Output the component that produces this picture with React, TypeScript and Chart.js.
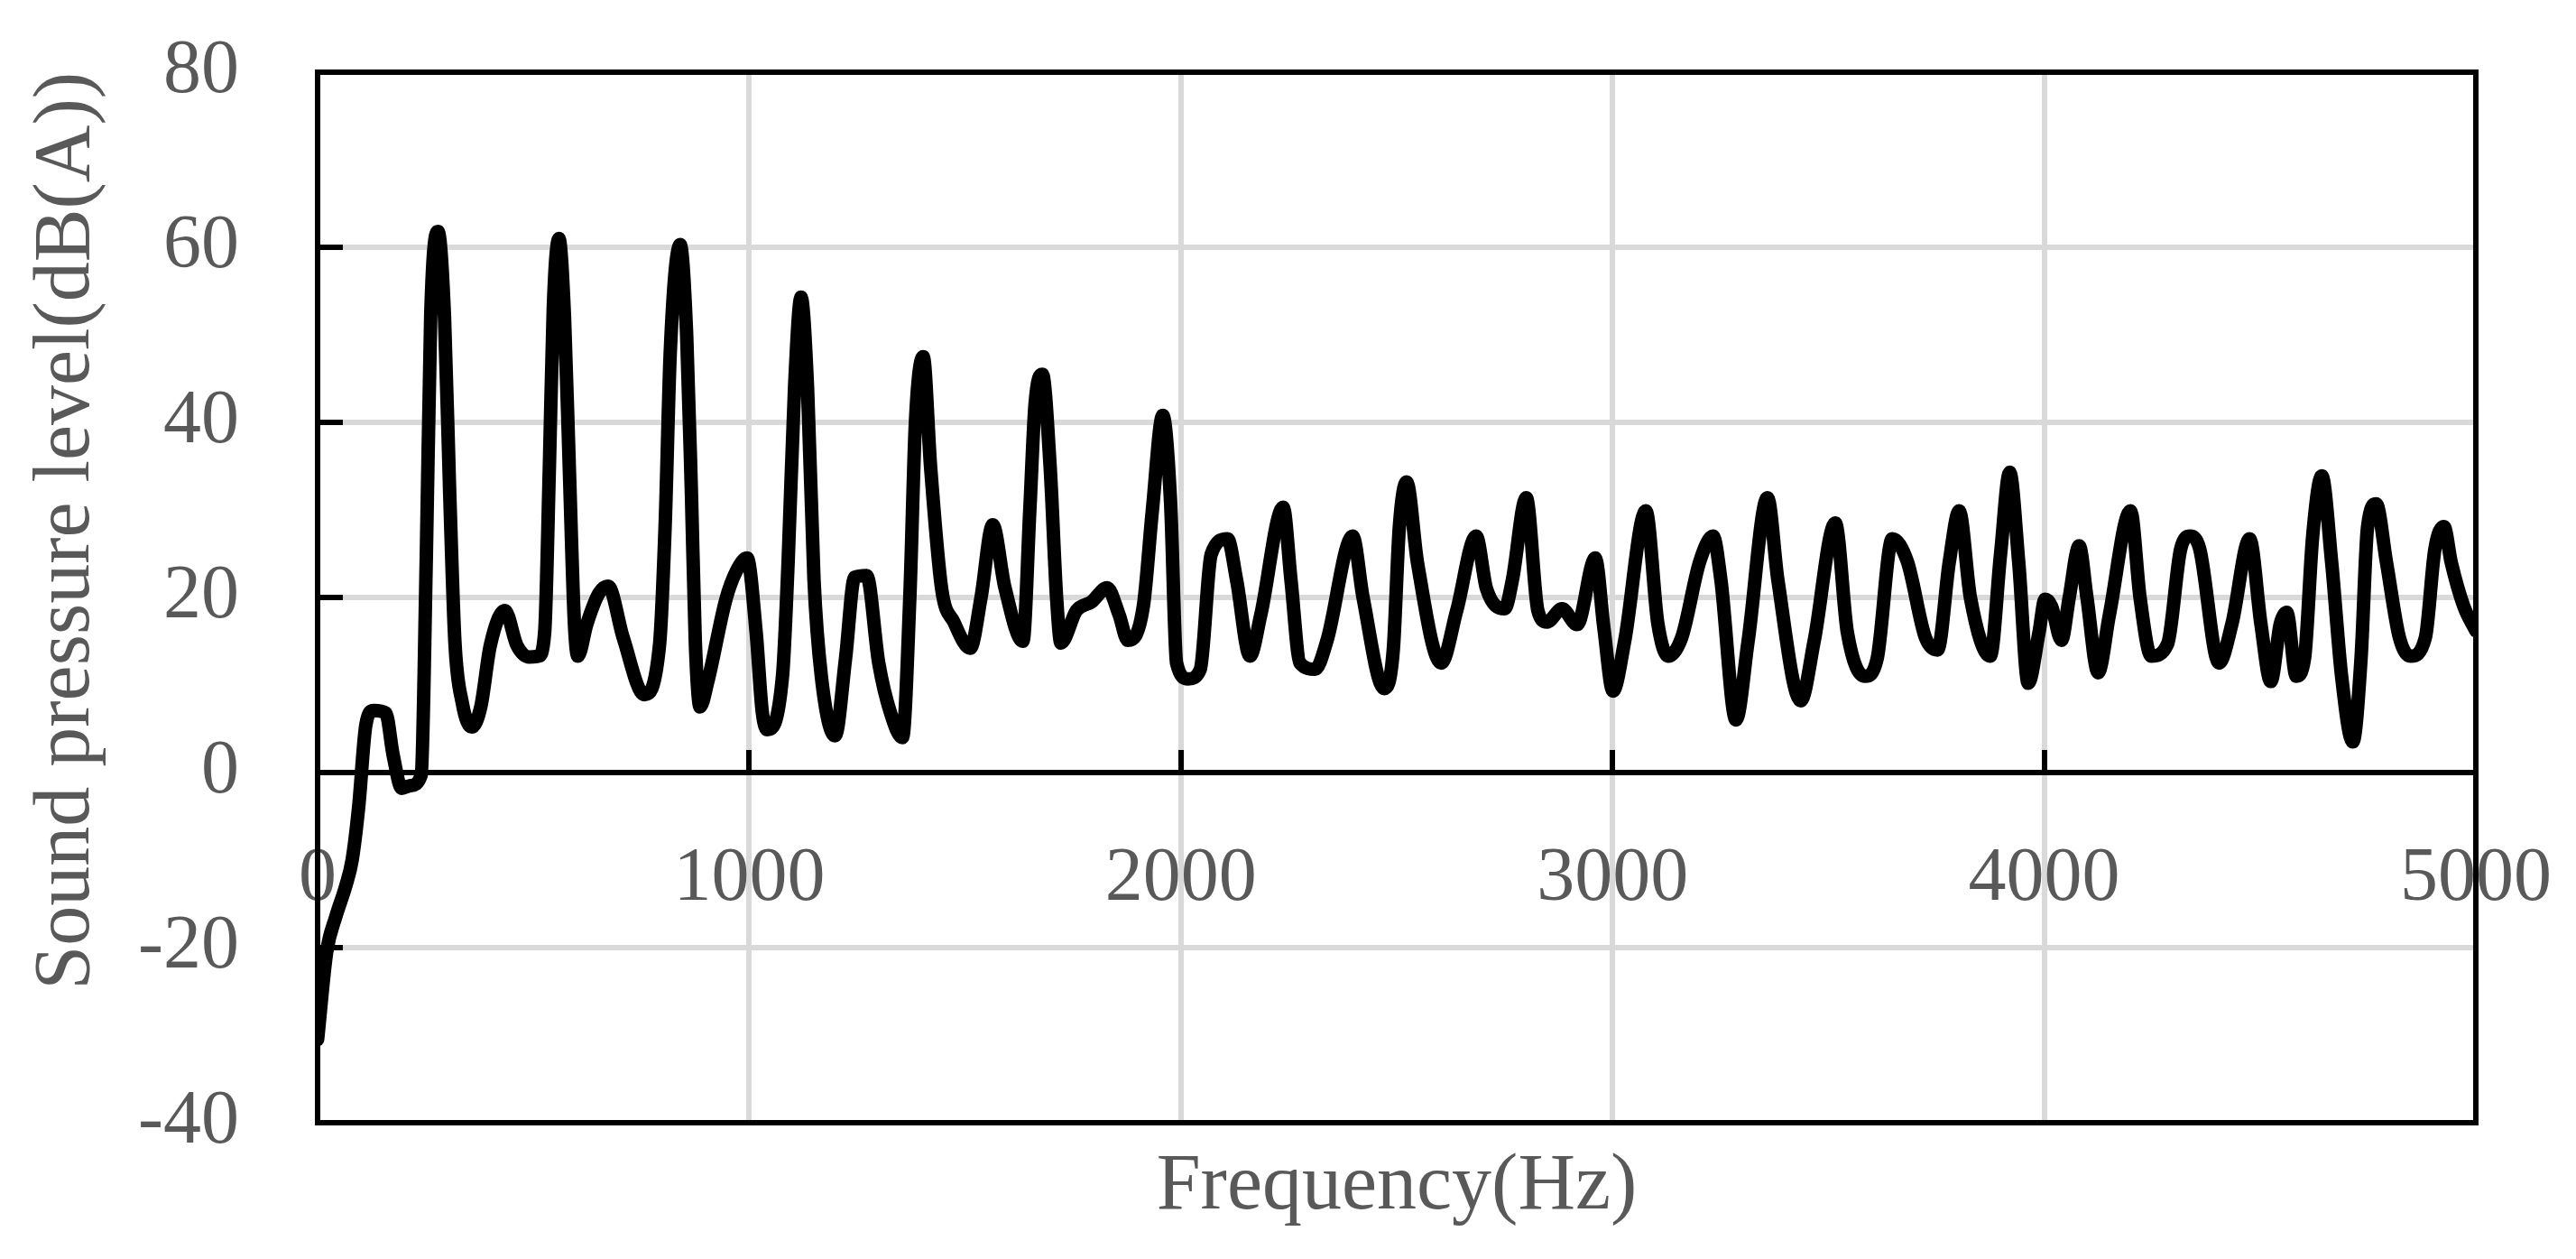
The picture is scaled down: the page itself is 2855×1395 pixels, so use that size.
import React, { useEffect, useRef } from "react";
import { Chart, registerables } from "chart.js";

Chart.register(...registerables);

const freqHz: number[] = [
  0, 21, 42, 65, 80, 95, 112, 130, 158, 175, 195, 215, 240, 252, 262, 279, 294, 306, 318, 335,
  357, 378, 400, 434, 462, 490, 512, 526, 537, 546, 559, 572, 583, 595, 603, 624, 652, 673, 708, 757,
  792, 805, 817, 840, 855, 866, 875, 886, 904, 946, 970, 995, 1016, 1030, 1042, 1077, 1090, 1105, 1120, 1135,
  1150, 1167, 1199, 1223, 1244, 1272, 1300, 1328, 1355, 1372, 1385, 1403, 1420, 1446, 1474, 1512, 1537, 1564, 1592, 1634,
  1650, 1662, 1679, 1697, 1712, 1722, 1758, 1793, 1829, 1857, 1877, 1913, 1934, 1958, 1976, 1990, 2017, 2045, 2070, 2108,
  2129, 2160, 2185, 2237, 2255, 2276, 2311, 2338, 2398, 2422, 2471, 2492, 2506, 2523, 2548, 2603, 2639, 2684, 2708, 2750,
  2768, 2800, 2827, 2848, 2883, 2918, 2960, 2980, 3001, 3028, 3077, 3105, 3129, 3160, 3202, 3233, 3251, 3286, 3314, 3359,
  3383, 3436, 3467, 3516, 3544, 3585, 3613, 3648, 3683, 3725, 3753, 3780, 3803, 3829, 3875, 3899, 3920, 3941, 3963, 3988,
  4002, 4017, 4040, 4058, 4081, 4099, 4125, 4151, 4200, 4222, 4248, 4286, 4316, 4338, 4360, 4405, 4435, 4476, 4502, 4525,
  4547, 4562, 4584, 4603, 4622, 4643, 4666, 4689, 4715, 4734, 4749, 4769, 4793, 4823, 4849, 4883, 4905, 4926, 4943, 4972,
  5000,
];

const splDb: number[] = [
  -30.5, -20.5, -16.5, -13, -10, -4, 5.5, 7.1, 6.8, 2, -1.8, -1.5, -0.3, 25, 52, 61.8, 52, 32, 15, 8,
  5.2, 7.5, 14.5, 18.5, 14.5, 13.2, 13.3, 16, 35, 53, 61, 52, 35, 17, 13.3, 17, 20.5, 21.3, 15.4, 8.9,
  14.5, 28, 48, 60.3, 50, 32, 15, 7.5, 10.4, 19.8, 23, 24.5, 16, 7, 4.9, 11, 24, 44, 54.3, 44,
  22, 11, 4.2, 13, 22.3, 22.5, 12.5, 6.7, 4.0, 20, 40, 47.5, 35, 20.9, 17.2, 14.2, 20, 28.3, 21.2, 15,
  30, 42, 45.5, 35, 20, 14.8, 18.5, 19.5, 21.1, 18, 15.1, 19, 30, 40.8, 31, 12.5, 10.7, 11.8, 24.9, 26.7,
  22, 13.3, 18, 30.3, 22, 12.5, 11.8, 15, 27, 20, 9.6, 14, 28, 33.2, 24, 12.5, 18.5, 27, 21, 18.7,
  22, 31.4, 18.5, 17.2, 18.7, 16.9, 24.5, 16.5, 9.3, 15, 29.9, 17, 13.3, 15.4, 24.1, 27, 22, 6, 15, 31.4,
  22, 8.2, 15, 28.5, 16, 11, 13, 26.7, 24.1, 15.4, 14, 24, 29.9, 20, 13.3, 25, 34.3, 24, 10.2, 16,
  19.8, 19, 15.1, 20, 25.9, 20, 11.4, 18, 29.9, 20, 13.3, 14.7, 25.5, 27, 25.6, 12.5, 17, 26.7, 17, 10.4,
  17, 18.3, 11, 13, 27, 33.9, 24, 11, 3.5, 13, 28, 30.7, 24, 15.4, 13.3, 15.4, 25.5, 28.1, 24, 19,
  16.2,
];

const xTitle = "Frequency(Hz)";
const yTitle = "Sound pressure level(dB(A))";
const xMin = 0;
const xMax = 5000;
const xStep = 1000;
const yMin = -40;
const yMax = 80;
const yStep = 20;

const FONT = "'Liberation Serif', 'Times New Roman', serif";
const TEXT_COLOR = "#595959";
const GRID_COLOR = "#d9d9d9";

const framePlugin = {
  id: "frame",
  beforeDatasetsDraw(chart: any) {
    const { ctx, chartArea } = chart;
    ctx.save();
    ctx.strokeStyle = "#000000";
    ctx.lineWidth = 6;
    ctx.strokeRect(chartArea.left, chartArea.top, chartArea.right - chartArea.left, chartArea.bottom - chartArea.top);
    ctx.restore();
  },
};

export default function App() {
  const canvasRef = useRef<HTMLCanvasElement | null>(null);

  useEffect(() => {
    document.body.style.margin = "0";
    const canvas = canvasRef.current;
    if (!canvas) return;
    const points = freqHz.map((f, i) => ({ x: f, y: splDb[i] }));
    const chart = new Chart(canvas, {
      type: "line",
      data: {
        datasets: [
          {
            data: points,
            borderColor: "#000000",
            borderWidth: 15,
            pointRadius: 0,
            cubicInterpolationMode: "monotone",
            borderJoinStyle: "round",
            borderCapStyle: "round",
            fill: false,
          },
        ],
      },
      options: {
        animation: false,
        responsive: true,
        maintainAspectRatio: false,
        devicePixelRatio: 1,
        layout: { padding: { top: 80, right: 111, bottom: 151, left: 0 } },
        plugins: { legend: { display: false }, tooltip: { enabled: false } },
        scales: {
          x: {
            type: "linear",
            position: { y: 0 },
            min: xMin,
            max: xMax,
            afterFit: (scale: any) => {
              scale.height = 513;
              scale.paddingLeft = 0;
              scale.paddingRight = 0;
              scale.paddingTop = 0;
              scale.paddingBottom = 0;
            },
            ticks: {
              stepSize: xStep,
              autoSkip: false,
              maxRotation: 0,
              padding: 97,
              color: TEXT_COLOR,
              font: { family: FONT, size: 84 },
              callback: (v: any) => String(v),
            },
            grid: {
              color: GRID_COLOR,
              lineWidth: 6,
              drawTicks: true,
              tickLength: -28,
              tickColor: "#000000",
              tickWidth: 6,
            },
            border: { display: true, color: "#000000", width: 6, z: 1 },
            title: {
              display: true,
              text: xTitle,
              color: TEXT_COLOR,
              font: { family: FONT, size: 88 },
              padding: { top: 0, bottom: 0 },
            },
          },
          y: {
            type: "linear",
            position: "left",
            min: yMin,
            max: yMax,
            afterFit: (scale: any) => {
              scale.width = 352;
              scale.paddingLeft = 0;
              scale.paddingRight = 0;
              scale.paddingTop = 0;
              scale.paddingBottom = 0;
            },
            ticks: {
              stepSize: yStep,
              padding: 115,
              color: TEXT_COLOR,
              font: { family: FONT, size: 84 },
              callback: (v: any) => String(v),
            },
            grid: {
              color: GRID_COLOR,
              lineWidth: 6,
              drawTicks: true,
              tickLength: -28,
              tickColor: "#000000",
              tickWidth: 6,
            },
            border: { display: true, color: "#000000", width: 6 },
            title: {
              display: true,
              text: yTitle,
              align: "end",
              color: TEXT_COLOR,
              font: { family: FONT, size: 88 },
              padding: { top: 22, bottom: 0 },
            },
          },
        },
      },
      plugins: [framePlugin],
    } as any);
    return () => chart.destroy();
  }, []);

  return (
    <div style={{ width: "2855px", height: "1395px", position: "relative" }}>
      <canvas ref={canvasRef} />
    </div>
  );
}
